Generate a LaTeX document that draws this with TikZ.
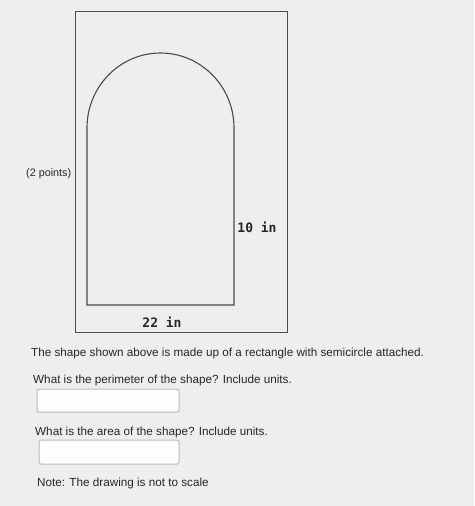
\documentclass[tikz,border=0pt]{standalone}
\usepackage{fontspec}
\setmainfont{Liberation Sans}
\newfontfamily\labfont{DejaVu Sans Mono}
\definecolor{bgc}{HTML}{EDEFEC}
\definecolor{linec}{HTML}{4A4A4A}
\definecolor{boxc}{HTML}{B8BCBA}
\definecolor{txtc}{HTML}{262626}
\tikzset{
  shapeline/.style={draw=linec, line width=1.1pt},
  dimlabel/.style={font=\labfont\bfseries\fontsize{13}{15}\selectfont, text=txtc, inner sep=1pt},
  qtext/.style={font=\fontsize{11.7}{14}\selectfont, text=txtc, anchor=west, inner sep=0pt},
  ansbox/.style={draw=boxc, line width=1pt, fill=white!85!bgc, rounded corners=2pt},
}
\begin{document}
\begin{tikzpicture}[x=1pt,y=-1pt]
\fill[bgc] (0,0) rectangle (474,506);
\useasboundingbox (0,0) rectangle (474,506);
% outer frame
\draw[shapeline, line width=0.9pt] (75,11) rectangle (287,332);
% inner shape: rectangle with semicircle
\coordinate (bl) at (87,305);
\coordinate (br) at (234,305);
\draw[shapeline] (br) -- (234,128) arc[start angle=0, end angle=180, x radius=73.5, y radius=-75] -- (87,128) -- (bl) -- cycle;
\node[dimlabel] (ten) at (257,227) {10 in};
\node[dimlabel] (twentytwo) at (162,322) {22 in};
\node[qtext, font=\fontsize{10.8}{13}\selectfont] (pts) at (26,174) {(2 points)};
\node[qtext] (q0) at (31,353) {The shape shown above is made up of a rectangle with semicircle attached.};
\node[qtext] (q1) at (33,380) {What is the perimeter of the shape? Include units.};
\draw[ansbox] (37,389) rectangle (179,412);
\node[qtext] (q2) at (35,432) {What is the area of the shape? Include units.};
\draw[ansbox] (39,440) rectangle (179,464);
\node[qtext] (q3) at (37,483) {Note: The drawing is not to scale};
\end{tikzpicture}
\end{document}
